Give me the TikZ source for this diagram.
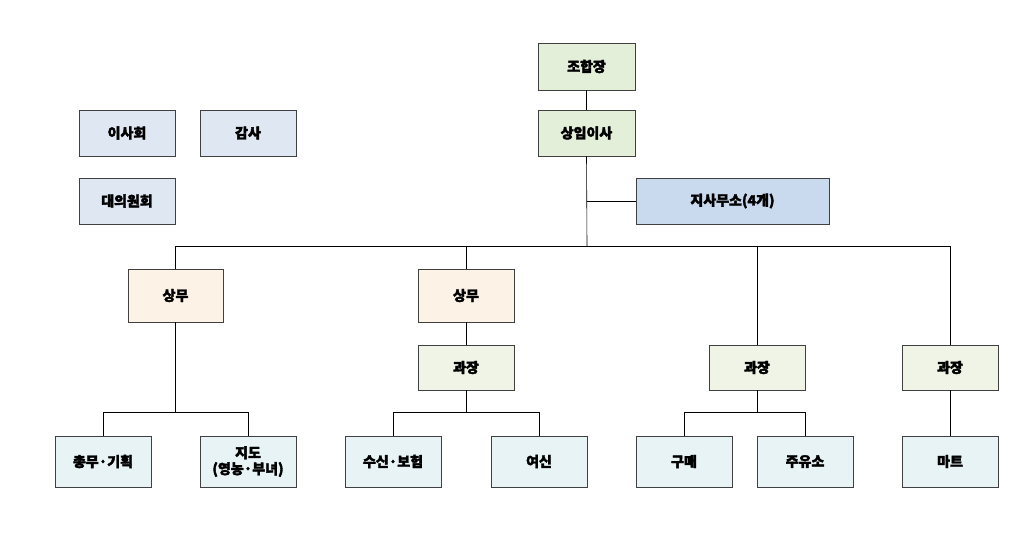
\documentclass[tikz,border=0pt]{standalone}
\usepackage{fontspec}
\setmainfont{Noto Sans CJK KR}[FakeBold=2.5]
\definecolor{cgr}{HTML}{E3EFD9}
\definecolor{cbl}{HTML}{DEE7F2}
\definecolor{cbl2}{HTML}{CADAEE}
\definecolor{cor}{HTML}{FCF2E5}
\definecolor{ckj}{HTML}{EFF4E6}
\definecolor{ccy}{HTML}{E8F3F6}
\begin{document}
\begin{tikzpicture}[x=1pt,y=-1pt,
 bx/.style={draw=black!75,line width=0.6pt,inner sep=0pt,font=\bfseries\fontsize{14}{16}\selectfont,align=center},
 gr/.style={bx,fill=cgr},
 bl/.style={bx,fill=cbl},
 bl2/.style={bx,fill=cbl2},
 or/.style={bx,fill=cor},
 kj/.style={bx,fill=ckj},
 cy/.style={bx,fill=ccy},
 ln/.style={line width=0.6pt}]
\useasboundingbox (0,0) rectangle (1032,543);
\newcommand\bxn[7]{\node[#1,minimum width=#4-#3 pt,minimum height=#6-#5 pt] (#2) at ({(#3+#4)/2},{(#5+#6)/2}) {#7};}
\bxn{gr}{jh}{538}{635}{43}{90}{조합장}
\bxn{gr}{si}{538}{635}{110}{156}{상임이사}
\bxn{bl}{ish}{79}{175}{110}{156}{이사회}
\bxn{bl}{gs}{200}{296}{110}{156}{감사}
\bxn{bl}{dw}{79}{175}{178}{224}{대의원회}
\bxn{bl2}{js}{636}{829}{178}{224}{지사무소(4개)}
\bxn{or}{sm1}{128}{223}{269}{322}{상무}
\bxn{or}{sm2}{418}{514}{269}{322}{상무}
\bxn{kj}{kj2}{418}{514}{345}{390}{과장}
\bxn{kj}{kj3}{709}{805}{345}{390}{과장}
\bxn{kj}{kj4}{902}{998}{345}{390}{과장}
\bxn{cy}{b1}{55}{151}{436}{487}{총무·기획}
\bxn{cy}{b2}{200}{296}{436}{487}{지도\\(영농·부녀)}
\bxn{cy}{b3}{345}{441}{436}{487}{수신·보험}
\bxn{cy}{b4}{491}{587}{436}{487}{여신}
\bxn{cy}{b5}{636}{732}{436}{487}{구매}
\bxn{cy}{b6}{757}{853}{436}{487}{주유소}
\bxn{cy}{b7}{902}{998}{436}{487}{마트}
\coordinate (bus) at (587,246);
\draw[ln] (jh) -- (si);
\draw[ln] (si.south) -- (bus);
\draw[ln] (si.south |- js) -- (js.west);
\draw[ln] (sm1.north) -- (sm1.north |- bus) -- (kj4.north |- bus) -- (kj4.north);
\draw[ln] (sm2.north) -- (sm2.north |- bus);
\draw[ln] (kj3.north) -- (kj3.north |- bus);
\draw[ln] (sm2) -- (kj2);
\draw[ln] (sm1.south) -- ++(0,90) coordinate (c1);
\draw[ln] (b1.north) -- (b1.north |- c1) -- (b2.north |- c1) -- (b2.north);
\draw[ln] (kj2.south) -- ++(0,22) coordinate (c2);
\draw[ln] (b3.north) -- (b3.north |- c2) -- (b4.north |- c2) -- (b4.north);
\draw[ln] (kj3.south) -- ++(0,22) coordinate (c3);
\draw[ln] (b5.north) -- (b5.north |- c3) -- (b6.north |- c3) -- (b6.north);
\draw[ln] (kj4) -- (b7);
\end{tikzpicture}
\end{document}
